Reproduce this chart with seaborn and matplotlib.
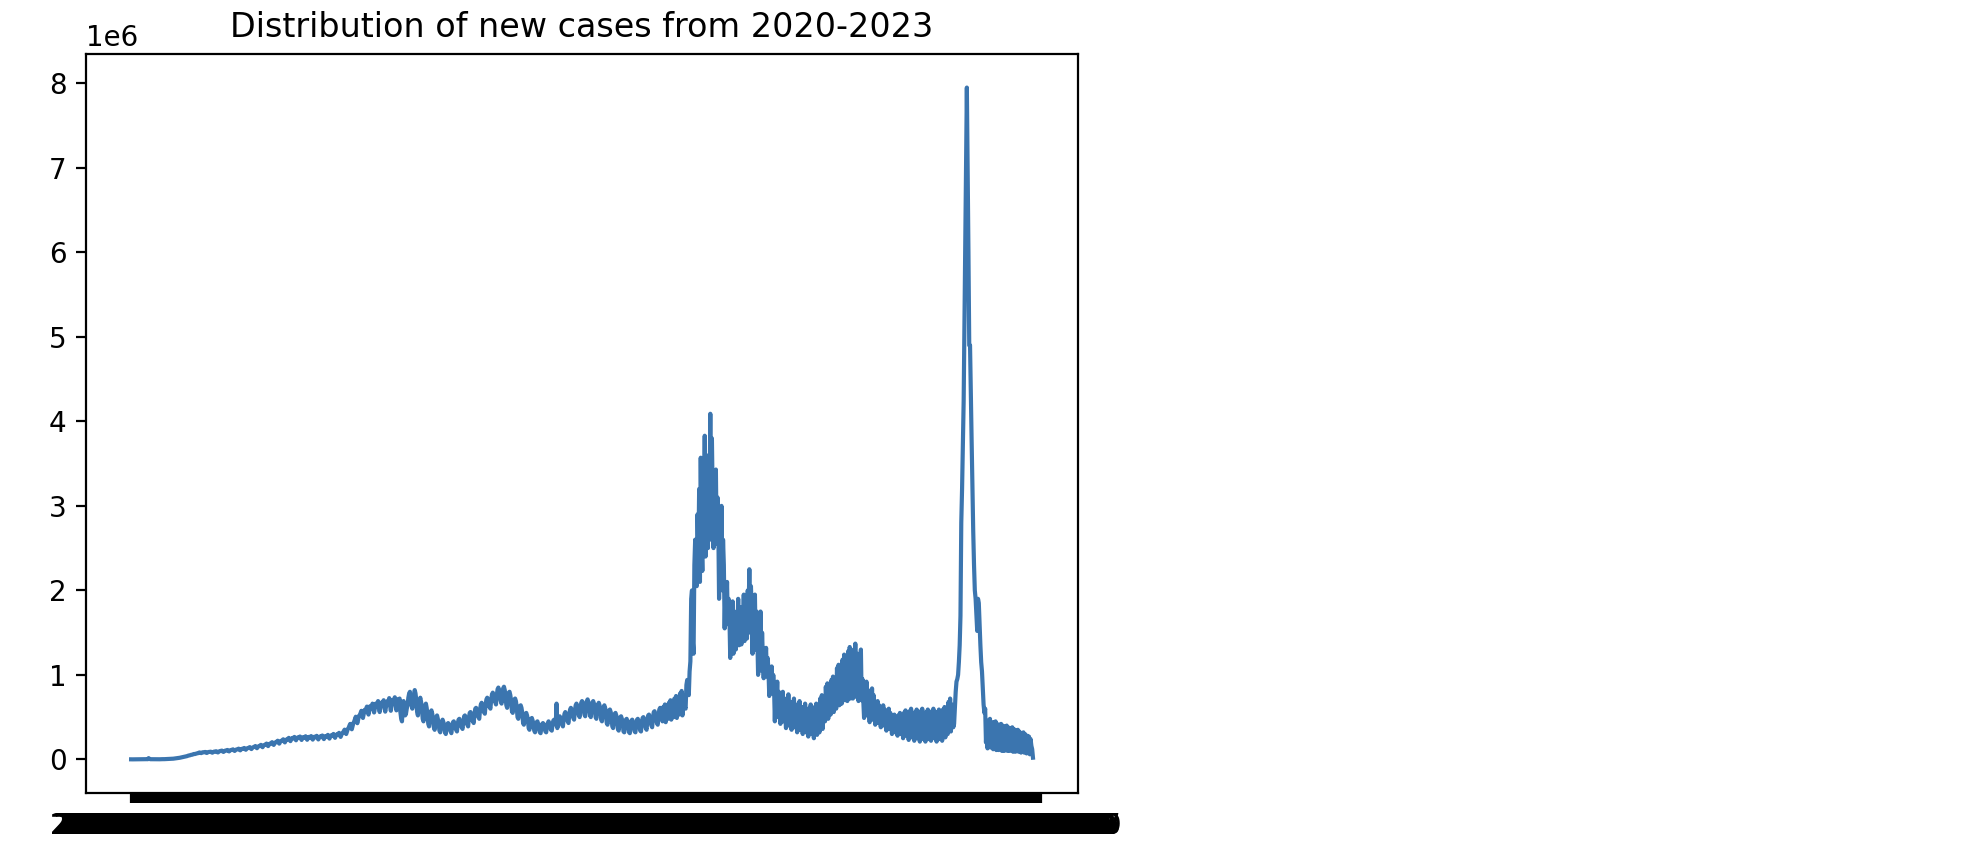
import numpy as np
import pandas as pd
import matplotlib
matplotlib.use("Agg")
import matplotlib.pyplot as plt
import seaborn as sns

# daily new cases, in thousands
cases_2020 = [
    0.6, 0.1, 0.3, 0.5, 0.7, 0.8, 1.4,
    1.7, 2.1, 2.0, 2.1, 2.6, 2.8, 3.2,
    3.9, 3.7, 3.2, 3.4, 2.7, 3.0, 2.6,
    2.0, 15.1, 6.5, 2.1, 2.6, 2.0, 1.8,
    0.6, 0.6, 0.9, 1.4, 1.5, 0.6, 1.2,
    1.4, 1.3, 1.9, 1.8, 2.5, 2.3, 2.6,
    2.8, 3.2, 3.5, 3.9, 4.1, 4.6, 5.0,
    5.4, 6.4, 6.9, 8.1, 8.3, 9.5, 9.8,
    11, 13, 14, 16, 17, 19, 21,
    22, 25, 27, 30, 31, 34, 36,
    38, 42, 45, 47, 49, 53, 55,
    56, 61, 64, 63, 66, 70, 72,
    73, 79, 82, 78, 74, 80, 85,
    84, 86, 88, 80, 76, 82, 87,
    88, 90, 91, 83, 79, 86, 92,
    92, 95, 96, 86, 82, 90, 97,
    99, 102, 104, 93, 88, 96, 104,
    105, 109, 112, 99, 94, 103, 110,
    112, 116, 119, 106, 100, 110, 117,
    118, 123, 127, 113, 107, 117, 125,
    126, 131, 135, 121, 114, 125, 133,
    135, 140, 145, 130, 122, 134, 143,
    146, 152, 158, 141, 132, 146, 156,
    158, 165, 172, 153, 144, 159, 170,
    172, 180, 187, 167, 157, 173, 185,
    187, 196, 204, 182, 171, 189, 201,
    203, 212, 221, 198, 186, 205, 218,
    219, 229, 238, 214, 201, 221, 235,
    236, 246, 255, 230, 216, 237, 251,
    248, 258, 266, 241, 226, 246, 259,
    254, 263, 271, 246, 230, 250, 263,
    257, 266, 274, 248, 232, 252, 266,
    259, 268, 276, 250, 234, 254, 268,
    261, 270, 279, 252, 236, 257, 271,
    264, 274, 283, 256, 240, 261, 276,
    270, 281, 290, 262, 246, 268, 284,
    279, 291, 301, 271, 255, 278, 295,
    290, 303, 314, 283, 266, 290, 310,
    316, 336, 352, 318, 300, 330, 360,
    372, 398, 420, 380, 356, 392, 430,
    448, 478, 505, 456, 428, 470, 515,
    520, 548, 575, 520, 490, 536, 585,
    570, 598, 625, 565, 530, 580, 630,
    600, 630, 660, 595, 555, 608, 660,
    620, 652, 690, 610, 560, 615, 672,
    640, 668, 700, 620, 565, 624, 685,
    655, 690, 725, 640, 575, 640, 700,
    665, 700, 735, 650, 580, 645, 712,
    690, 720, 560, 480, 450, 600, 690,
    650, 520,
]

cases_2021 = [
    540, 600, 640, 730, 780, 800, 720,
    640, 600, 700, 760, 820, 780, 700,
    560, 520, 640, 700, 730, 680, 600,
    480, 450, 580, 640, 660, 610, 530,
    420, 390, 500, 560, 580, 540, 470,
    380, 350, 440, 500, 520, 480, 420,
    340, 320, 400, 450, 470, 440, 380,
    320, 300, 380, 420, 430, 410, 360,
    330, 310, 390, 440, 450, 420, 370,
    350, 330, 420, 470, 480, 450, 400,
    380, 360, 450, 510, 520, 490, 430,
    410, 390, 490, 550, 560, 530, 470,
    450, 430, 540, 600, 610, 580, 520,
    500, 480, 590, 650, 670, 640, 570,
    560, 540, 650, 710, 730, 700, 630,
    620, 600, 710, 770, 790, 760, 690,
    680, 650, 760, 830, 850, 820, 740,
    690, 660, 770, 840, 860, 820, 740,
    640, 610, 720, 790, 800, 760, 690,
    570, 550, 650, 710, 720, 690, 620,
    500, 480, 570, 630, 640, 610, 550,
    430, 410, 490, 540, 550, 520, 470,
    370, 350, 430, 480, 490, 460, 410,
    340, 320, 390, 440, 450, 420, 380,
    320, 310, 380, 420, 430, 410, 370,
    330, 320, 390, 430, 450, 430, 390,
    350, 340, 410, 460, 470, 450, 410,
    660, 370, 450, 500, 510, 490, 440,
    410, 390, 480, 540, 560, 540, 490,
    450, 430, 530, 590, 610, 590, 540,
    490, 470, 570, 640, 660, 640, 580,
    520, 500, 600, 670, 690, 670, 610,
    530, 510, 620, 690, 710, 680, 620,
    520, 500, 600, 670, 690, 660, 600,
    500, 480, 580, 650, 670, 640, 580,
    470, 450, 550, 620, 640, 610, 550,
    430, 410, 510, 580, 590, 560, 500,
    390, 370, 470, 540, 550, 520, 460,
    360, 340, 440, 500, 510, 480, 430,
    330, 320, 410, 470, 480, 450, 400,
    320, 310, 400, 460, 470, 440, 390,
    330, 320, 410, 470, 480, 450, 400,
    340, 330, 430, 490, 500, 470, 420,
    370, 350, 460, 520, 530, 500, 450,
    400, 380, 490, 560, 570, 540, 480,
    430, 410, 520, 590, 610, 580, 520,
    450, 620, 530, 650, 440, 630, 550,
    480, 670, 580, 700, 470, 660, 590,
    500, 720, 610, 750, 490, 700, 620,
    530, 780, 650, 810, 520, 760, 660,
    620, 600, 880, 940, 920, 760, 1040,
    1160, 1900, 2000, 1400, 1250, 2300, 2600,
    2200,
]

cases_2022 = [
    2050, 2900, 2400, 3200, 2100, 3570, 2600,
    2230, 3300, 2700, 3830, 2400, 3600, 2900,
    2500, 3500, 2900, 4090, 2600, 3800, 3100,
    2500, 3200, 2700, 3430, 2550, 3100, 2800,
    1900, 2700, 2200, 3000, 2000, 2600, 2300,
    1550, 2000, 1700, 2100, 1600, 1900, 1700,
    1200, 1700, 1400, 1870, 1250, 1600, 1450,
    1300, 1750, 1500, 1900, 1350, 1800, 1550,
    1360, 1800, 1550, 1950, 1400, 1850, 1600,
    1430, 2000, 1700, 2250, 1500, 2050, 1750,
    1250, 1800, 1500, 1950, 1300, 1750, 1450,
    1000, 1600, 1300, 1750, 1050, 1500, 1200,
    960, 1250, 1100, 1320, 980, 1200, 1050,
    750, 1050, 900, 1100, 780, 1000, 850,
    450, 850, 650, 920, 500, 800, 600,
    420, 760, 580, 800, 450, 720, 540,
    370, 720, 540, 770, 400, 680, 500,
    350, 680, 500, 720, 380, 650, 480,
    320, 650, 480, 690, 350, 620, 450,
    300, 620, 450, 660, 320, 600, 430,
    270, 600, 430, 650, 300, 580, 410,
    250, 620, 440, 660, 290, 600, 420,
    320, 720, 520, 760, 360, 680, 500,
    450, 860, 650, 900, 480, 820, 620,
    530, 940, 720, 980, 560, 900, 700,
    600, 1080, 820, 1120, 640, 1020, 800,
    660, 1180, 900, 1240, 700, 1120, 880,
    690, 1280, 950, 1330, 720, 1220, 920,
    720, 1300, 980, 1370, 740, 1250, 950,
    690, 1250, 900, 1300, 700, 950, 700,
    490, 880, 650, 920, 520, 820, 620,
    440, 800, 600, 840, 470, 760, 560,
    410, 660, 520, 690, 430, 640, 500,
    380, 610, 480, 640, 400, 590, 460,
    340, 570, 440, 600, 360, 550, 420,
    300, 510, 400, 530, 320, 490, 380,
    280, 520, 400, 550, 300, 510, 380,
    250, 550, 400, 580, 280, 530, 380,
    230, 570, 400, 600, 260, 550, 380,
    220, 560, 390, 590, 250, 540, 370,
    210, 570, 380, 600, 240, 550, 360,
    210, 560, 380, 590, 240, 540, 360,
    220, 570, 380, 600, 250, 550, 370,
    210, 560, 370, 590, 240, 530, 360,
    220, 590, 400, 620, 260, 570, 390,
    300, 680, 480, 720, 330, 650, 460,
    380, 420, 620, 800, 920, 950, 1000,
    1150, 1350, 1700, 2800, 3200, 3700, 4240,
    5200, 6200, 7100, 7950, 7000, 6000, 4900,
    4900, 4300, 3770, 3200, 2700, 2300, 2000,
    1900, 1700, 1520, 1900, 1850, 1600, 1350,
    1150, 1040, 850, 650, 550, 600, 200,
    450,
]

cases_2023 = [
    130, 460, 300, 480, 140, 440, 320,
    120, 440, 290, 450, 110, 420, 300,
    110, 410, 280, 420, 100, 400, 280,
    100, 390, 260, 400, 100, 380, 260,
    100, 370, 250, 380, 90, 360, 250,
    90, 340, 230, 350, 90, 330, 230,
    80, 310, 210, 320, 80, 300, 210,
    70, 280, 190, 270, 60, 240, 160,
    120, 20,
    np.nan, np.nan, np.nan, np.nan, np.nan,
    np.nan, np.nan, np.nan, np.nan, np.nan,
]

dates = pd.date_range("2020-01-22", "2023-03-09").strftime("%Y-%m-%d")
new_cases = np.concatenate([cases_2020, cases_2021, cases_2022, cases_2023]) * 1000

df = pd.DataFrame({"date": list(dates), "new_cases": new_cases})

fig = plt.figure(figsize=(9.84, 4.29), dpi=200)
ax = fig.add_axes([0.0437, 0.0758, 0.5041, 0.8613])
sns.lineplot(data=df, x="date", y="new_cases", ax=ax, color="#3b75af",
             estimator=None, errorbar=None)
ax.set_title("Distribution of new cases from 2020-2023")
ax.set_xlabel("")
ax.set_ylabel("")

fig.savefig("out.png", dpi=200)
